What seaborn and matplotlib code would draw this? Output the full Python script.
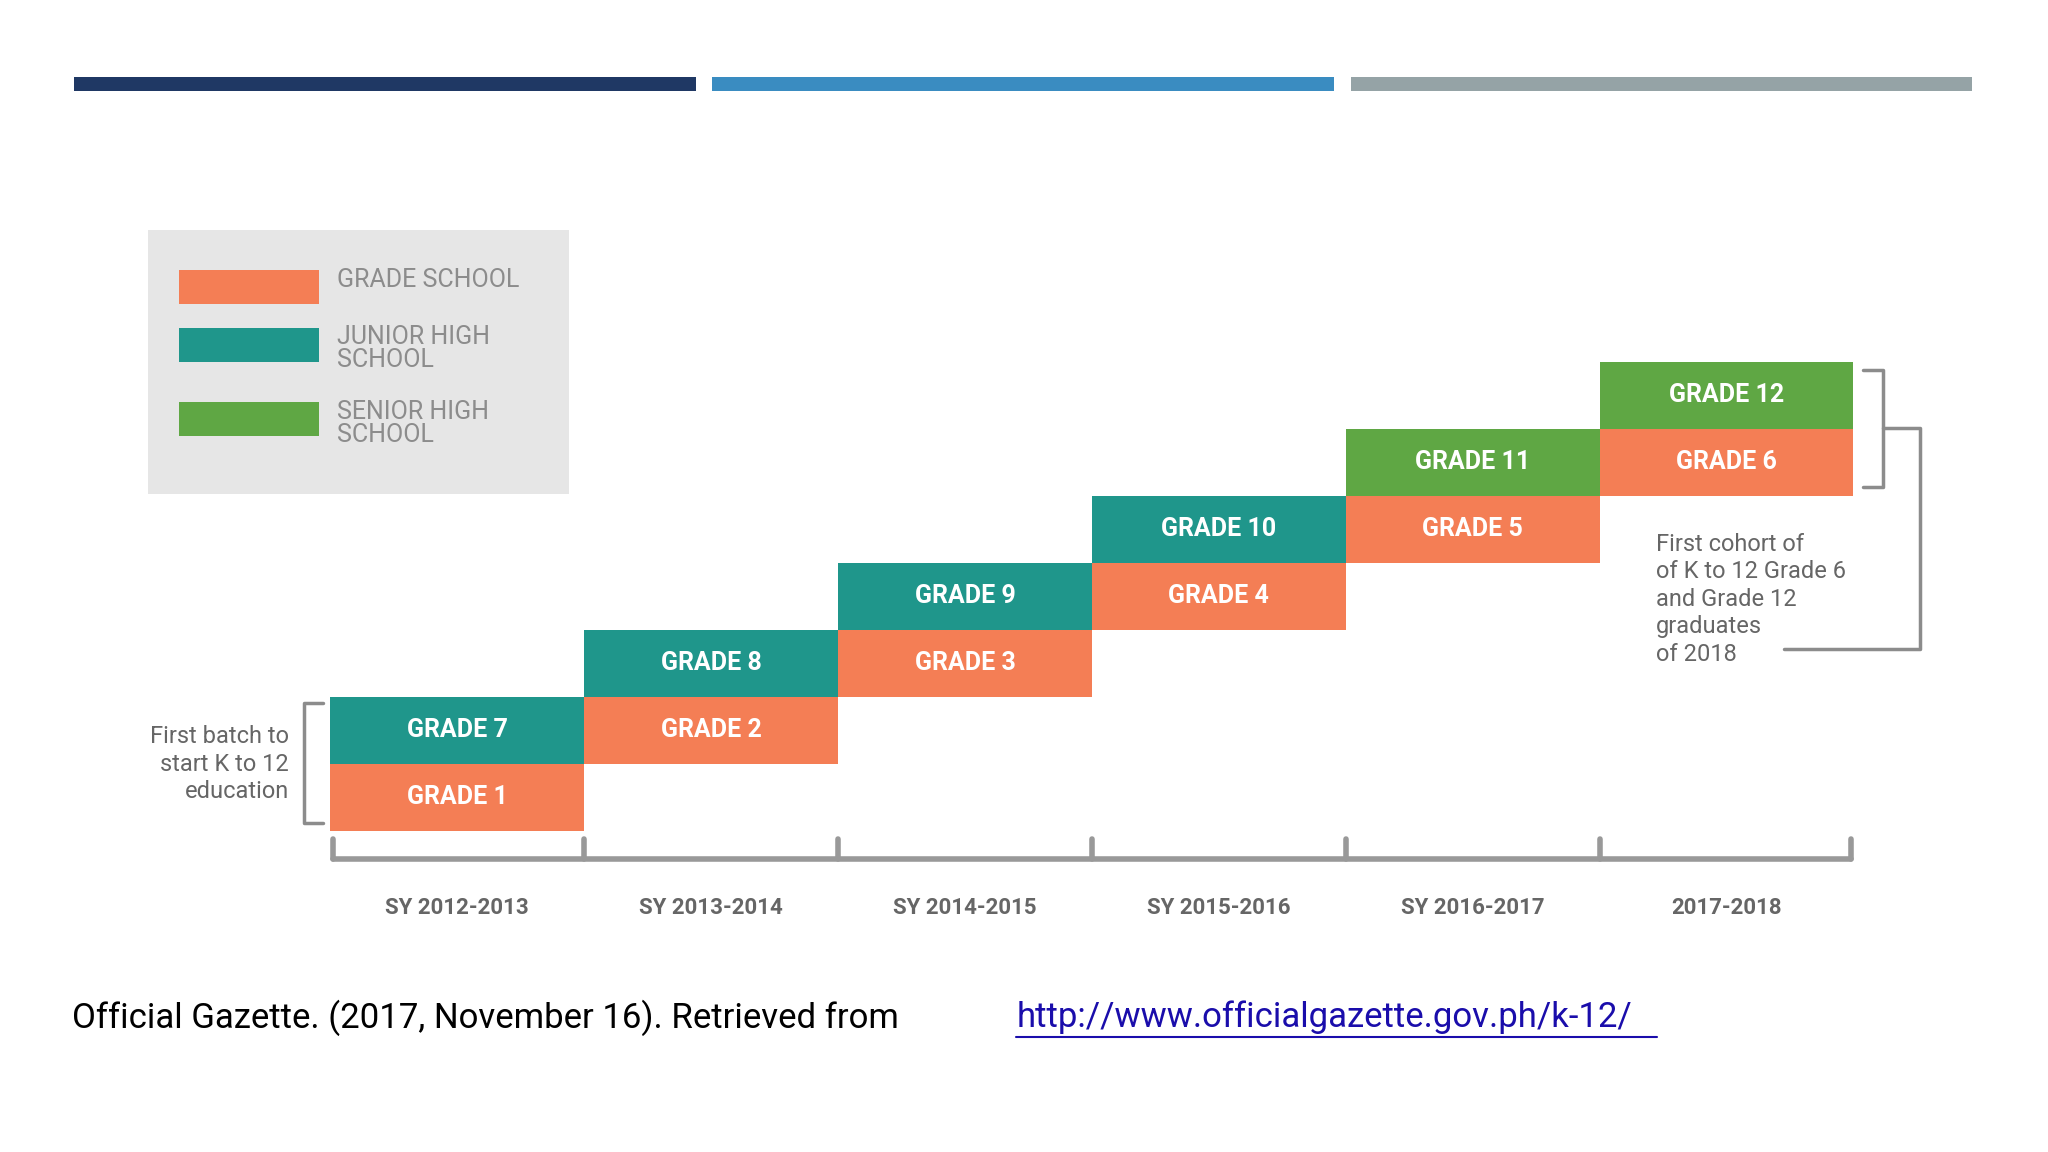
import matplotlib
matplotlib.use("Agg")
import matplotlib.pyplot as plt
import seaborn as sns
import pandas as pd

sns.set_style("white")
plt.rcParams['font.family'] = ['Roboto', 'DejaVu Sans']

years = ["SY 2012-2013", "SY 2013-2014", "SY 2014-2015", "SY 2015-2016", "SY 2016-2017", "2017-2018"]
lower_grades = ["GRADE 1", "GRADE 2", "GRADE 3", "GRADE 4", "GRADE 5", "GRADE 6"]
upper_grades = ["GRADE 7", "GRADE 8", "GRADE 9", "GRADE 10", "GRADE 11", "GRADE 12"]
upper_levels = ["Junior High School"] * 4 + ["Senior High School"] * 2
lower_start_row = [0, 1, 2, 3, 4, 5]

ORANGE, TEAL, GREEN = "#F47E55", "#1F968B", "#5FA744"
colors = {"Grade School": ORANGE, "Junior High School": TEAL, "Senior High School": GREEN}

fig = plt.figure(figsize=(20.48, 11.52), dpi=100)

# decoration overlay in reference pixel coords
ov = fig.add_axes([0, 0, 1, 1])
ov.set_xlim(0, 1568); ov.set_ylim(882, 0); ov.axis("off")
for x0, x1, c in [(57, 533, "#1F3864"), (545, 1021, "#3A8CC1"), (1034, 1510, "#95A3A6")]:
    ov.add_patch(plt.Rectangle((x0, 59), x1 - x0, 11, color=c, lw=0))
ov.add_patch(plt.Rectangle((113, 176), 323, 202, color="#E6E6E6", lw=0))
for y, c, t in [(207, ORANGE, "GRADE SCHOOL"), (251, TEAL, "JUNIOR HIGH\nSCHOOL"), (308, GREEN, "SENIOR HIGH\nSCHOOL")]:
    ov.add_patch(plt.Rectangle((137, y), 107, 26, color=c, lw=0))
    ov.text(258, y - 2, t, va="top", ha="left", color="#8C8C8C", fontsize=18, linespacing=0.95)
gray = "#8C8C8C"
ov.plot([247, 233, 233, 247], [538, 538, 630, 630], color=gray, lw=2.5)
ov.text(221, 585, "First batch to\nstart K to 12\neducation", ha="right", va="center",
        color="#666666", fontsize=17, linespacing=1.25)
ov.plot([1426, 1442, 1442, 1426], [283, 283, 373, 373], color=gray, lw=2.5)
ov.plot([1442, 1470, 1470, 1366], [328, 328, 497, 497], color=gray, lw=2.5)
ov.text(1268, 408, "First cohort of\nof K to 12 Grade 6\nand Grade 12\ngraduates\nof 2018", ha="left", va="top",
        color="#666666", fontsize=17, linespacing=1.25)
ov.text(55, 779, "Official Gazette. (2017, November 16). Retrieved from ", ha="left", va="center",
        fontsize=25, color="black")
ov.text(778, 779, "http://www.officialgazette.gov.ph/k-12/", ha="left", va="center",
        fontsize=25, color="#1A0DAB")
ov.plot([778, 1269], [794, 794], color="#1A0DAB", lw=1.5)

# data axes
ax = fig.add_axes([253 / 1568, 1 - 636 / 882, 1166 / 1568, 359 / 882])
ax.set_xlim(0, 6); ax.set_ylim(0, 7); ax.axis("off")
xs = list(range(len(years)))
ax.bar([x + 0.5 for x in xs], [1] * 6, bottom=lower_start_row, width=1, color=ORANGE,
       edgecolor=ORANGE, lw=0)
ax.bar([x + 0.5 for x in xs], [1] * 6, bottom=[r + 1 for r in lower_start_row], width=1,
       color=[colors[l] for l in upper_levels], lw=0)
for x, r, lo, up in zip(xs, lower_start_row, lower_grades, upper_grades):
    ax.text(x + 0.5, r + 0.5, lo, ha="center", va="center", color="white", fontsize=18, fontweight="bold")
    ax.text(x + 0.5, r + 1.5, up, ha="center", va="center", color="white", fontsize=18, fontweight="bold")

# timeline axis
base = -22 / 51.3
ax.plot([0.01, 5.99], [base, base], color="#999999", lw=4, clip_on=False)
for b in range(7):
    bx = min(max(b, 0.01), 5.99)
    ax.plot([bx, bx], [base, base + 0.3], color="#999999", lw=4, clip_on=False)
for x, y in zip(xs, years):
    ax.text(x + 0.5, -59 / 51.3, y, ha="center", va="center", color="#666666", fontsize=16, fontweight="bold")

fig.savefig("out.png", dpi=100)
